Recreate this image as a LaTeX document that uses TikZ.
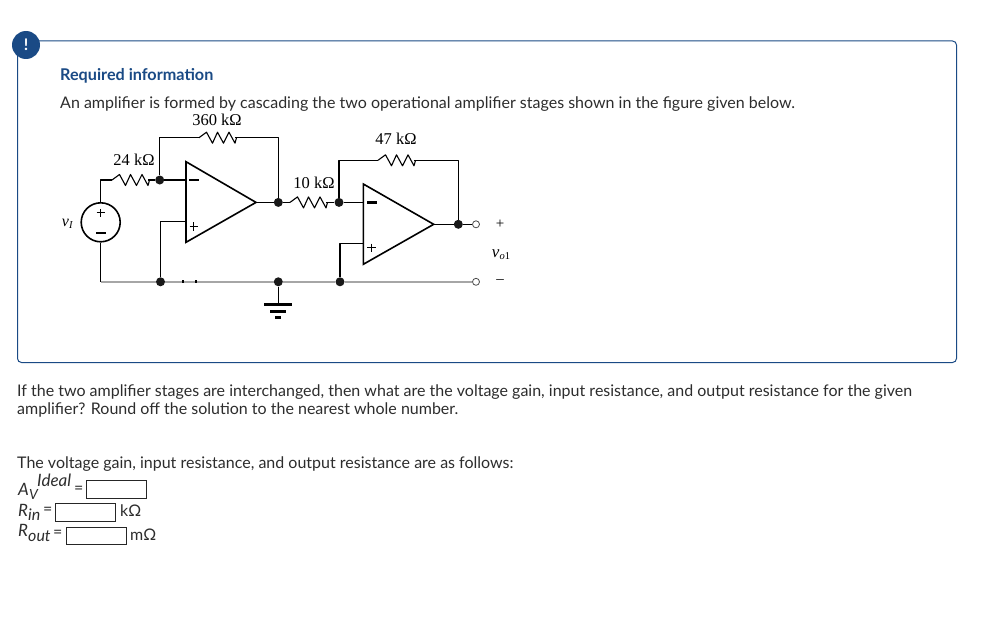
\documentclass[tikz,border=0pt]{standalone}
\usepackage{fontspec}
\setmainfont{Lato}
\newfontfamily\serifc{Liberation Serif}
\usetikzlibrary{calc}
\definecolor{frameblue}{HTML}{1A4A85}
\definecolor{txt}{HTML}{2D2D2D}
\tikzset{
 wire/.style={line width=1.1pt,black,line join=round},
 grayw/.style={line width=1.5pt,black!35},
 opamp/.style={line width=1.6pt,black,line join=miter},
 dot/.style={circle,fill=black!90,inner sep=0,minimum size=9pt},
 opent/.style={circle,draw=black!70,fill=white,line width=.8pt,inner sep=0,minimum size=7pt},
 para/.style={anchor=base west,inner sep=0,text=txt,font=\fontsize{16}{18}\selectfont},
 cval/.style={inner sep=0,text=black,font=\serifc\fontsize{16.5}{18}\selectfont},
 ansbox/.style={draw=black!85,line width=.9pt,inner sep=0,minimum height=17.5pt,minimum width=59.5pt,anchor=north west},
}
\newcommand{\zigzag}[1]{\draw[wire] (#1) -- ++(7.5,-5.5) -- ++(6,11) -- ++(5,-11) -- ++(6,11) -- ++(5.5,-11) -- ++(6,11) -- ++(1.5,-5.5);}
\begin{document}
\begin{tikzpicture}[x=1pt,y=-1pt]
\useasboundingbox (0,0) rectangle (984,634);
\fill[white] (0,0) rectangle (984,634);
\node[draw=frameblue,line width=1pt,rounded corners=4pt,minimum width=939pt,minimum height=321.5pt,inner sep=0,anchor=north west] (frame) at (17,40.5) {};
\node[circle,fill=frameblue,minimum size=28pt,inner sep=0,text=white,font=\bfseries\fontsize{16}{16}\selectfont] (badge) at (26,45) {!};
\node[para,text=frameblue,font=\bfseries\fontsize{16.2}{18}\selectfont] (title) at (60,80.2) {Required information};
\node[para] (intro) at (60,108.7) {An amplifier is formed by cascading the two operational amplifier stages shown in the figure given below.};
% junctions and terminals
\node[dot] (j1) at (159.7,180) {};
\node[dot] (j2) at (278.3,202.4) {};
\node[dot] (j3) at (339,202.4) {};
\node[dot] (j4) at (458.3,224.3) {};
\node[dot] (g1) at (160.5,281.8) {};
\node[dot] (g2) at (278.3,281.8) {};
\node[dot] (g3) at (340,281.8) {};
\node[opent] (t1) at (476,224.3) {};
\node[opent] (t2) at (476,281.8) {};
\node[circle,draw=black,line width=1.6pt,minimum size=39pt,inner sep=0] (src) at (100.7,222.3) {};
\coordinate (c1) at (100.7,180);
\coordinate (c0) at (100.7,281.8);
\coordinate (r1a) at (112,180);
\coordinate (r1b) at (148,180);
\coordinate (fb1l) at (159.7,137.7);
\coordinate (fb1r) at (278.3,137.7);
\coordinate (r2a) at (199,137.7);
\coordinate (r2b) at (235,137.7);
\coordinate (r3a) at (290,202.4);
\coordinate (r3b) at (326,202.4);
\coordinate (fb2l) at (339,160.3);
\coordinate (fb2r) at (458.3,160.3);
\coordinate (r4a) at (378,160.3);
\coordinate (r4b) at (414,160.3);
\coordinate (in1m) at (186,180);
\coordinate (in1p) at (186,221.3);
\coordinate (out1) at (256,202.4);
\coordinate (in2m) at (363.3,202.4);
\coordinate (in2p) at (363.3,243.3);
\coordinate (out2) at (433.7,224.3);
\coordinate (gnd) at (278.3,304.3);
% wires
\draw[grayw] (c0) -- (g1) -- (g2) -- (g3) -- (t2);
\draw[wire] (src) -- (c1) -- (r1a);
\draw[wire] (src) -- (c0);
\zigzag{r1a}
\draw[wire] (r1b) -- (j1) -- (in1m);
\draw[wire] (j1) -- (fb1l) -- (r2a);
\zigzag{r2a}
\draw[wire] (r2b) -- (fb1r) -- (j2);
\draw[wire] (g1) |- (in1p);
\draw[wire] (out1) -- (j2) -- (r3a);
\zigzag{r3a}
\draw[wire] (r3b) -- (j3) -- (in2m);
\draw[wire] (j3) -- (fb2l) -- (r4a);
\zigzag{r4a}
\draw[wire] (r4b) -- (fb2r) -- (j4);
\draw[wire] (g3) |- (in2p);
\draw[wire] (out2) -- (j4) -- (t1);
\draw[wire] (g2) -- (gnd);
% ticks on the ground rail
\draw[wire] (183,280.3) -- (183,283);
\draw[wire] (196,280.3) -- (196,283);
% ground symbol
\draw[line width=2.4pt] (264,304.3) -- (292,304.3);
\draw[line width=2.2pt] (270,311.5) -- (286,311.5);
\draw[line width=3pt] (275,317.8) -- (281,317.8);
% op amps
\draw[opamp,fill=white] (186,161.7) -- (186,242.3) -- (256,202.4) -- cycle;
\draw[opamp,fill=white] (363.3,184) -- (363.3,264.3) -- (433.7,224.3) -- cycle;
% polarity marks
\draw[line width=2.2pt] (189,180) -- (199,180);
\draw[line width=.9pt] (189.5,226.5) -- (198,226.5) (193.7,222.2) -- (193.7,230.8);
\draw[line width=2.2pt] (367,202.4) -- (377,202.4);
\draw[line width=1.1pt] (367,247.7) -- (375.5,247.7) (371.2,243.5) -- (371.2,252);
\draw[line width=.9pt] (96.7,212.8) -- (104.7,212.8) (100.7,208.8) -- (100.7,216.8);
\draw[line width=1.7pt] (96,232.8) -- (105.5,232.8);
% circuit labels
\node[cval] (l360) at (217,120) {360 kΩ};
\node[cval] (l24) at (134,159.5) {24 kΩ};
\node[cval] (l10) at (314,182.5) {10 kΩ};
\node[cval] (l47) at (396,138.5) {47 kΩ};
\node[cval,anchor=base,font=\serifc\fontsize{16}{18}\selectfont] (lvi) at (67.5,226) {\textit{v}\raisebox{-2.5pt}{\fontsize{10.5}{10}\selectfont\textit{I}}};
\node[cval,font=\serifc\fontsize{15}{16}\selectfont] (lplus) at (500,224.3) {+};
\node[cval,anchor=base,font=\serifc\fontsize{17}{18}\selectfont] (lvo) at (501,257) {\textit{v}\raisebox{-2.5pt}{\fontsize{10.5}{10}\selectfont\textit{o}1}};
\node[cval,font=\serifc\fontsize{15}{16}\selectfont] (lminus) at (500,281.8) {–};
% question
\node[para] (q1) at (17,396.5) {If the two amplifier stages are interchanged, then what are the voltage gain, input resistance, and output resistance for the given};
\node[para] (q2) at (17,414.5) {amplifier? Round off the solution to the nearest whole number.};
\node[para] (q3) at (17,468.5) {The voltage gain, input resistance, and output resistance are as follows:};
\node[para,font=\itshape\fontsize{17}{18}\selectfont] (av) at (18,495) {A};
\node[para,font=\itshape\fontsize{14}{16}\selectfont] (avs) at (29,499) {V};
\node[para,font=\itshape\fontsize{17}{18}\selectfont] (ideal) at (37,486) {Ideal};
\node[para] (eq1) at (74,493) {=};
\node[ansbox] (b1) at (86,480) {};
\node[para,font=\itshape\fontsize{17}{18}\selectfont] (rin) at (18,516) {R};
\node[para,font=\itshape\fontsize{16}{18}\selectfont] (rins) at (28,520) {in};
\node[para] (eq2) at (43,514) {=};
\node[ansbox] (b2) at (55,503) {};
\node[para] (u1) at (120,516) {kΩ};
\node[para,font=\itshape\fontsize{17}{18}\selectfont] (rout) at (18,536) {R};
\node[para,font=\itshape\fontsize{16}{18}\selectfont] (routs) at (28,541) {out};
\node[para] (eq3) at (53,537) {=};
\node[ansbox] (b3) at (66,526.5) {};
\node[para] (u2) at (130,540) {mΩ};
\end{tikzpicture}
\end{document}
